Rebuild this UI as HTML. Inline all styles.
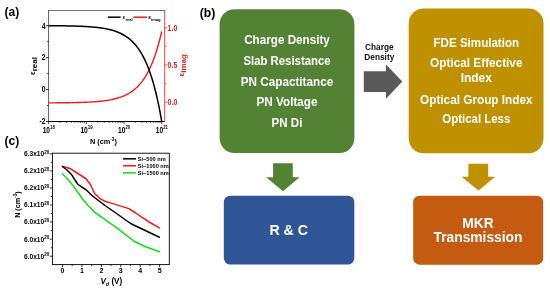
<!DOCTYPE html>
<html lang="en"><head><meta charset="utf-8"><title>Figure</title>
<style>
html,body{margin:0;padding:0;background:#fff;}
body{width:550px;height:289px;overflow:hidden;}
svg{display:block;}
text{font-family:"Liberation Sans", Arial, sans-serif;font-weight:bold;}
.w{fill:#fff;}
</style></head><body>
<svg width="550" height="289" viewBox="0 0 550 289">
<rect width="550" height="289" fill="#fff"/>

<text x="4.6" y="16.4" font-size="12" fill="#000" text-anchor="start" >(a)</text>
<text x="199.8" y="16.5" font-size="12.2" fill="#000" text-anchor="start" >(b)</text>
<text x="4.5" y="144.9" font-size="12" fill="#000" text-anchor="start" >(c)</text>
<polyline points="48.60,102.87 49.55,102.87 50.50,102.86 51.45,102.86 52.40,102.85 53.35,102.85 54.30,102.84 55.25,102.84 56.20,102.83 57.15,102.82 58.10,102.82 59.05,102.81 60.01,102.80 60.96,102.79 61.91,102.78 62.86,102.77 63.81,102.76 64.76,102.75 65.71,102.74 66.66,102.73 67.61,102.72 68.56,102.70 69.51,102.69 70.46,102.67 71.41,102.66 72.36,102.64 73.31,102.62 74.26,102.60 75.21,102.58 76.16,102.56 77.11,102.54 78.06,102.51 79.01,102.49 79.96,102.46 80.91,102.43 81.86,102.40 82.82,102.37 83.77,102.33 84.72,102.30 85.67,102.26 86.62,102.22 87.57,102.17 88.52,102.13 89.47,102.08 90.42,102.03 91.37,101.97 92.32,101.91 93.27,101.85 94.22,101.79 95.17,101.72 96.12,101.64 97.07,101.57 98.02,101.48 98.97,101.40 99.92,101.30 100.87,101.20 101.82,101.10 102.77,100.99 103.72,100.87 104.67,100.75 105.63,100.62 106.58,100.48 107.53,100.33 108.48,100.18 109.43,100.01 110.38,99.84 111.33,99.65 112.28,99.45 113.23,99.24 114.18,99.02 115.13,98.79 116.08,98.54 117.03,98.28 117.98,98.00 118.93,97.70 119.88,97.39 120.83,97.06 121.78,96.71 122.73,96.33 123.68,95.94 124.63,95.52 125.58,95.08 126.53,94.61 127.48,94.11 128.44,93.58 129.39,93.02 130.34,92.43 131.29,91.80 132.24,91.13 133.19,90.43 134.14,89.68 135.09,88.88 136.04,88.04 136.99,87.15 137.94,86.21 138.89,85.21 139.84,84.15 140.79,83.03 141.74,81.84 142.69,80.58 143.64,79.24 144.59,77.82 145.54,76.32 146.49,74.73 147.44,73.04 148.39,71.26 149.34,69.36 150.29,67.35 151.25,65.23 152.20,62.97 153.15,60.58 154.10,58.05 155.05,55.37 156.00,52.53 156.95,49.51 157.90,46.32 158.85,42.94 159.80,39.35 160.75,35.55 161.70,31.52" fill="none" stroke="#f21a1a" stroke-width="1.4" stroke-linejoin="round"/>
<polyline points="48.60,25.70 49.55,25.70 50.50,25.71 51.45,25.71 52.40,25.72 53.35,25.73 54.30,25.74 55.25,25.74 56.20,25.75 57.15,25.76 58.10,25.77 59.05,25.78 60.01,25.79 60.96,25.80 61.91,25.82 62.86,25.83 63.81,25.84 64.76,25.86 65.71,25.87 66.66,25.89 67.61,25.91 68.56,25.92 69.51,25.94 70.46,25.96 71.41,25.99 72.36,26.01 73.31,26.03 74.26,26.06 75.21,26.09 76.16,26.12 77.11,26.15 78.06,26.18 79.01,26.21 79.96,26.25 80.91,26.29 81.86,26.33 82.82,26.37 83.77,26.42 84.72,26.47 85.67,26.52 86.62,26.58 87.57,26.64 88.52,26.70 89.47,26.76 90.42,26.83 91.37,26.91 92.32,26.98 93.27,27.07 94.22,27.16 95.17,27.25 96.12,27.35 97.07,27.45 98.02,27.56 98.97,27.68 99.92,27.80 100.87,27.93 101.82,28.07 102.77,28.22 103.72,28.38 104.67,28.55 105.63,28.72 106.58,28.91 107.53,29.11 108.48,29.32 109.43,29.54 110.38,29.77 111.33,30.02 112.28,30.29 113.23,30.57 114.18,30.86 115.13,31.18 116.08,31.51 117.03,31.86 117.98,32.24 118.93,32.64 119.88,33.06 120.83,33.50 121.78,33.97 122.73,34.47 123.68,35.00 124.63,35.57 125.58,36.16 126.53,36.79 127.48,37.46 128.44,38.17 129.39,38.92 130.34,39.72 131.29,40.56 132.24,41.46 133.19,42.40 134.14,43.41 135.09,44.47 136.04,45.60 136.99,46.80 137.94,48.06 138.89,49.41 139.84,50.83 140.79,52.34 141.74,53.93 142.69,55.63 143.64,57.42 144.59,59.32 145.54,61.34 146.49,63.48 147.44,65.74 148.39,68.14 149.34,70.68 150.29,73.38 151.25,76.23 152.20,79.26 153.15,82.46 154.10,85.86 155.05,89.46 156.00,93.28 156.95,97.33 157.90,101.61 158.85,106.16 159.80,110.97 160.75,116.07 161.70,121.48" fill="none" stroke="#000" stroke-width="1.5" stroke-linejoin="round"/>
<path d="M48.6 10.5H164.7" stroke="#777" stroke-width="1" fill="none"/>
<path d="M48.6 10.0V121.5" stroke="#333" stroke-width="0.8" fill="none"/>
<path d="M48.2 121.5H164.7" stroke="#000" stroke-width="1" fill="none"/>
<path d="M164.7 10.0V121.5" stroke="#f03030" stroke-width="0.9" fill="none"/>
<path d="M46.0 25.60H48.6M46.0 57.56H48.6M46.0 89.52H48.6M46.0 121.48H48.6M47.1 41.58H48.6M47.1 73.54H48.6M47.1 105.50H48.6" stroke="#000" stroke-width="0.8" fill="none"/>
<text transform="translate(45.6,28.5) scale(0.82,1)" font-size="8.3" fill="#000" text-anchor="end">4</text>
<text transform="translate(45.6,60.46) scale(0.82,1)" font-size="8.3" fill="#000" text-anchor="end">2</text>
<text transform="translate(45.6,92.42) scale(0.82,1)" font-size="8.3" fill="#000" text-anchor="end">0</text>
<text transform="translate(45.6,124.38) scale(0.82,1)" font-size="8.3" fill="#000" text-anchor="end">-2</text>
<path d="M164.7 27.80h2.6M164.7 65.00h2.6M164.7 102.20h2.6M164.7 46.40h1.5M164.7 83.60h1.5" stroke="#f03030" stroke-width="0.8" fill="none"/>
<text transform="translate(167.6,30.7) scale(0.85,1)" font-size="8.2" fill="#f02020" text-anchor="start">1.0</text>
<text transform="translate(167.6,67.9) scale(0.85,1)" font-size="8.2" fill="#f02020" text-anchor="start">0.5</text>
<text transform="translate(167.6,105.1) scale(0.85,1)" font-size="8.2" fill="#f02020" text-anchor="start">0.0</text>
<path d="M48.60 121.5v2.6M59.95 121.5v1.4M66.59 121.5v1.4M71.30 121.5v1.4M74.95 121.5v1.4M77.94 121.5v1.4M80.46 121.5v1.4M82.65 121.5v1.4M84.57 121.5v1.4M86.30 121.5v2.6M97.65 121.5v1.4M104.29 121.5v1.4M109.00 121.5v1.4M112.65 121.5v1.4M115.64 121.5v1.4M118.16 121.5v1.4M120.35 121.5v1.4M122.27 121.5v1.4M124.00 121.5v2.6M135.35 121.5v1.4M141.99 121.5v1.4M146.70 121.5v1.4M150.35 121.5v1.4M153.34 121.5v1.4M155.86 121.5v1.4M158.05 121.5v1.4M159.97 121.5v1.4M161.70 121.5v2.6" stroke="#000" stroke-width="0.7" fill="none"/>
<text transform="translate(42.7,132.7) scale(0.77,1)" font-size="8.6" fill="#000" text-anchor="start">10<tspan font-size="5.6" dy="-3.3">18</tspan></text>
<text transform="translate(80.4,132.7) scale(0.77,1)" font-size="8.6" fill="#000" text-anchor="start">10<tspan font-size="5.6" dy="-3.3">19</tspan></text>
<text transform="translate(118.1,132.7) scale(0.77,1)" font-size="8.6" fill="#000" text-anchor="start">10<tspan font-size="5.6" dy="-3.3">20</tspan></text>
<text transform="translate(155.8,132.7) scale(0.77,1)" font-size="8.6" fill="#000" text-anchor="start">10<tspan font-size="5.6" dy="-3.3">21</tspan></text>
<text transform="translate(89.9,143.8) scale(0.92,1)" font-size="8" fill="#000" text-anchor="start">N (cm<tspan font-size="5" dy="-3.2">-3</tspan><tspan font-size="8" dy="3.2">)</tspan></text>
<text transform="translate(35.1,66) rotate(-90)" font-size="7.6" text-anchor="middle">ε<tspan font-size="8" dy="2.3">real</tspan></text>
<text transform="translate(183.5,65.3) rotate(-90)" font-size="7.6" fill="#f02020" text-anchor="middle">ε<tspan font-size="8" dy="2.1">imag</tspan></text>
<path d="M107.9 17.2H120.6" stroke="#000" stroke-width="1.5"/>
<text x="122.6" y="19.2" font-size="6" text-anchor="start">ε<tspan font-size="4.1" dy="1.3">real</tspan></text>
<path d="M133.4 17.2H146.8" stroke="#f21a1a" stroke-width="1.5"/>
<text x="148.2" y="19.2" font-size="6" text-anchor="start">ε<tspan font-size="4.1" dy="1.3">imag</tspan></text>
<rect x="52.4" y="153.2" width="116.90" height="111.40" fill="none" stroke="#000" stroke-width="0.9"/>
<path d="M49.8 153.80H52.4M50.9 162.33H52.4M49.8 170.87H52.4M50.9 179.40H52.4M49.8 187.94H52.4M50.9 196.47H52.4M49.8 205.01H52.4M50.9 213.54H52.4M49.8 222.08H52.4M50.9 230.61H52.4M49.8 239.15H52.4M50.9 247.68H52.4M49.8 256.22H52.4M62.50 264.6v2.6M72.21 264.6v1.5M81.92 264.6v2.6M91.63 264.6v1.5M101.34 264.6v2.6M111.05 264.6v1.5M120.76 264.6v2.6M130.47 264.6v1.5M140.18 264.6v2.6M149.89 264.6v1.5M159.60 264.6v2.6" stroke="#000" stroke-width="0.8" fill="none"/>
<text transform="translate(24.0,156.2) scale(0.96,1)" font-size="6.9" fill="#000" text-anchor="start">6.3x10<tspan font-size="4.8" dy="-2.7">20</tspan></text>
<text transform="translate(24.0,173.27) scale(0.96,1)" font-size="6.9" fill="#000" text-anchor="start">6.2x10<tspan font-size="4.8" dy="-2.7">20</tspan></text>
<text transform="translate(24.0,190.34) scale(0.96,1)" font-size="6.9" fill="#000" text-anchor="start">6.2x10<tspan font-size="4.8" dy="-2.7">20</tspan></text>
<text transform="translate(24.0,207.41) scale(0.96,1)" font-size="6.9" fill="#000" text-anchor="start">6.1x10<tspan font-size="4.8" dy="-2.7">20</tspan></text>
<text transform="translate(24.0,224.48) scale(0.96,1)" font-size="6.9" fill="#000" text-anchor="start">6.0x10<tspan font-size="4.8" dy="-2.7">20</tspan></text>
<text transform="translate(24.0,241.55) scale(0.96,1)" font-size="6.9" fill="#000" text-anchor="start">6.0x10<tspan font-size="4.8" dy="-2.7">20</tspan></text>
<text transform="translate(24.0,258.62) scale(0.96,1)" font-size="6.9" fill="#000" text-anchor="start">6.0x10<tspan font-size="4.8" dy="-2.7">20</tspan></text>
<text x="62.50" y="273.2" font-size="7" fill="#000" text-anchor="middle" >0</text>
<text x="81.92" y="273.2" font-size="7" fill="#000" text-anchor="middle" >1</text>
<text x="101.34" y="273.2" font-size="7" fill="#000" text-anchor="middle" >2</text>
<text x="120.76" y="273.2" font-size="7" fill="#000" text-anchor="middle" >3</text>
<text x="140.18" y="273.2" font-size="7" fill="#000" text-anchor="middle" >4</text>
<text x="159.60" y="273.2" font-size="7" fill="#000" text-anchor="middle" >5</text>
<text transform="translate(111.3,284.3) scale(0.92,1)" font-size="8.8" fill="#000" text-anchor="middle"><tspan font-style="italic">V</tspan><tspan font-size="5.8" dy="1.5" font-style="italic">d</tspan><tspan dy="-1.5"> (V)</tspan></text>
<text transform="translate(19.8,204.6) rotate(-90)" font-size="7.2" text-anchor="middle">N (cm<tspan font-size="4.6" dy="-2.8">-3</tspan><tspan dy="2.8">)</tspan></text>
<polyline points="62.4,173.8 67,178.5 72.8,185.2 78,192.5 83.1,199.7 88,205.5 94.6,212.2 105,219.6 117.5,228.3 126,235 134,241.2 145,246.5 159.4,251.8" fill="none" stroke="#10e010" stroke-width="1.5" stroke-linejoin="round" stroke-linecap="round"/>
<polyline points="62.4,166.5 66,167.2 70.7,168.8 78,173.5 86.3,179 90.4,184.5 94.6,193.5 99.7,198.3 105,201.3 112,203.4 128.9,208.6 135,212.5 141.3,216.9 150,222.5 159.4,227.9" fill="none" stroke="#f21a1a" stroke-width="1.5" stroke-linejoin="round" stroke-linecap="round"/>
<polyline points="62.4,166.5 67,170 71.7,174.8 75,180 78,184.5 82,187.2 86.3,190 92.5,196 105,205.5 118,214.5 127,221 131,223.7 140,228 159.4,237.2" fill="none" stroke="#000" stroke-width="1.5" stroke-linejoin="round" stroke-linecap="round"/>
<path d="M123 158.8H136" stroke="#000" stroke-width="1.5"/>
<text x="137.8" y="160.8" font-size="5.6" fill="#000" text-anchor="start" >Si−500 nm</text>
<path d="M123 165.8H136" stroke="#f21a1a" stroke-width="1.5"/>
<text x="137.8" y="167.8" font-size="5.6" fill="#000" text-anchor="start" >Si−1000 nm</text>
<path d="M123 172.8H136" stroke="#10e010" stroke-width="1.5"/>
<text x="137.8" y="174.8" font-size="5.6" fill="#000" text-anchor="start" >Si−1500 nm</text>
<rect x="219.6" y="9.2" width="134.80" height="143.90" rx="15" ry="15" fill="#548235"/>
<rect x="408.7" y="8.4" width="134.80" height="144.90" rx="15" ry="15" fill="#bf9000"/>
<rect x="223.8" y="195.7" width="130.50" height="68.90" rx="6.5" ry="6.5" fill="#2f5597"/>
<rect x="413.2" y="195.7" width="130.00" height="69.00" rx="6.5" ry="6.5" fill="#c55a11"/>
<path d="M273.1 163.3H292.8V177.3H299.6L283 191.2L266.1 177.3H273.1Z" fill="#548235"/>
<path d="M468.4 163.7H488.2V176.8H495.2L478.5 190.5L461.6 176.8H468.4Z" fill="#bf9000"/>
<path d="M363.8 71.2H386V64.4L402.3 81.5L386 98.8V92H363.8Z" fill="#595959"/>
<text x="287" y="44.099999999999994" font-size="13.7" fill="#fff" text-anchor="middle" textLength="85.6" lengthAdjust="spacingAndGlyphs" >Charge Density</text>
<text x="287" y="64.8" font-size="13.7" fill="#fff" text-anchor="middle" textLength="87.2" lengthAdjust="spacingAndGlyphs" >Slab Resistance</text>
<text x="287" y="85.5" font-size="13.7" fill="#fff" text-anchor="middle" textLength="92.4" lengthAdjust="spacingAndGlyphs" >PN Capactitance</text>
<text x="287" y="106.3" font-size="13.7" fill="#fff" text-anchor="middle" textLength="61.2" lengthAdjust="spacingAndGlyphs" >PN Voltage</text>
<text x="287" y="126.89999999999999" font-size="13.7" fill="#fff" text-anchor="middle" textLength="30.8" lengthAdjust="spacingAndGlyphs" >PN Di</text>
<text x="476.3" y="46.9" font-size="13.7" fill="#fff" text-anchor="middle" textLength="85.6" lengthAdjust="spacingAndGlyphs" >FDE Simulation</text>
<text x="476.3" y="67.3" font-size="13.7" fill="#fff" text-anchor="middle" textLength="92.4" lengthAdjust="spacingAndGlyphs" >Optical Effective</text>
<text x="476.3" y="82.1" font-size="13.7" fill="#fff" text-anchor="middle" textLength="31.2" lengthAdjust="spacingAndGlyphs" >Index</text>
<text x="476.3" y="103.6" font-size="13.7" fill="#fff" text-anchor="middle" textLength="112.4" lengthAdjust="spacingAndGlyphs" >Optical Group Index</text>
<text x="476.3" y="123.39999999999999" font-size="13.7" fill="#fff" text-anchor="middle" textLength="68" lengthAdjust="spacingAndGlyphs" >Optical Less</text>
<text x="288.7" y="235.1" font-size="14.2" fill="#fff" text-anchor="middle" >R &amp; C</text>
<text x="478" y="227.5" font-size="13.8" fill="#fff" text-anchor="middle" >MKR</text>
<text x="478" y="242.4" font-size="13.8" fill="#fff" text-anchor="middle" >Transmission</text>
<text x="379.3" y="50.4" font-size="8.3" fill="#111" text-anchor="middle" >Charge</text>
<text x="379.3" y="60.3" font-size="8.3" fill="#111" text-anchor="middle" >Density</text>
</svg></body></html>
